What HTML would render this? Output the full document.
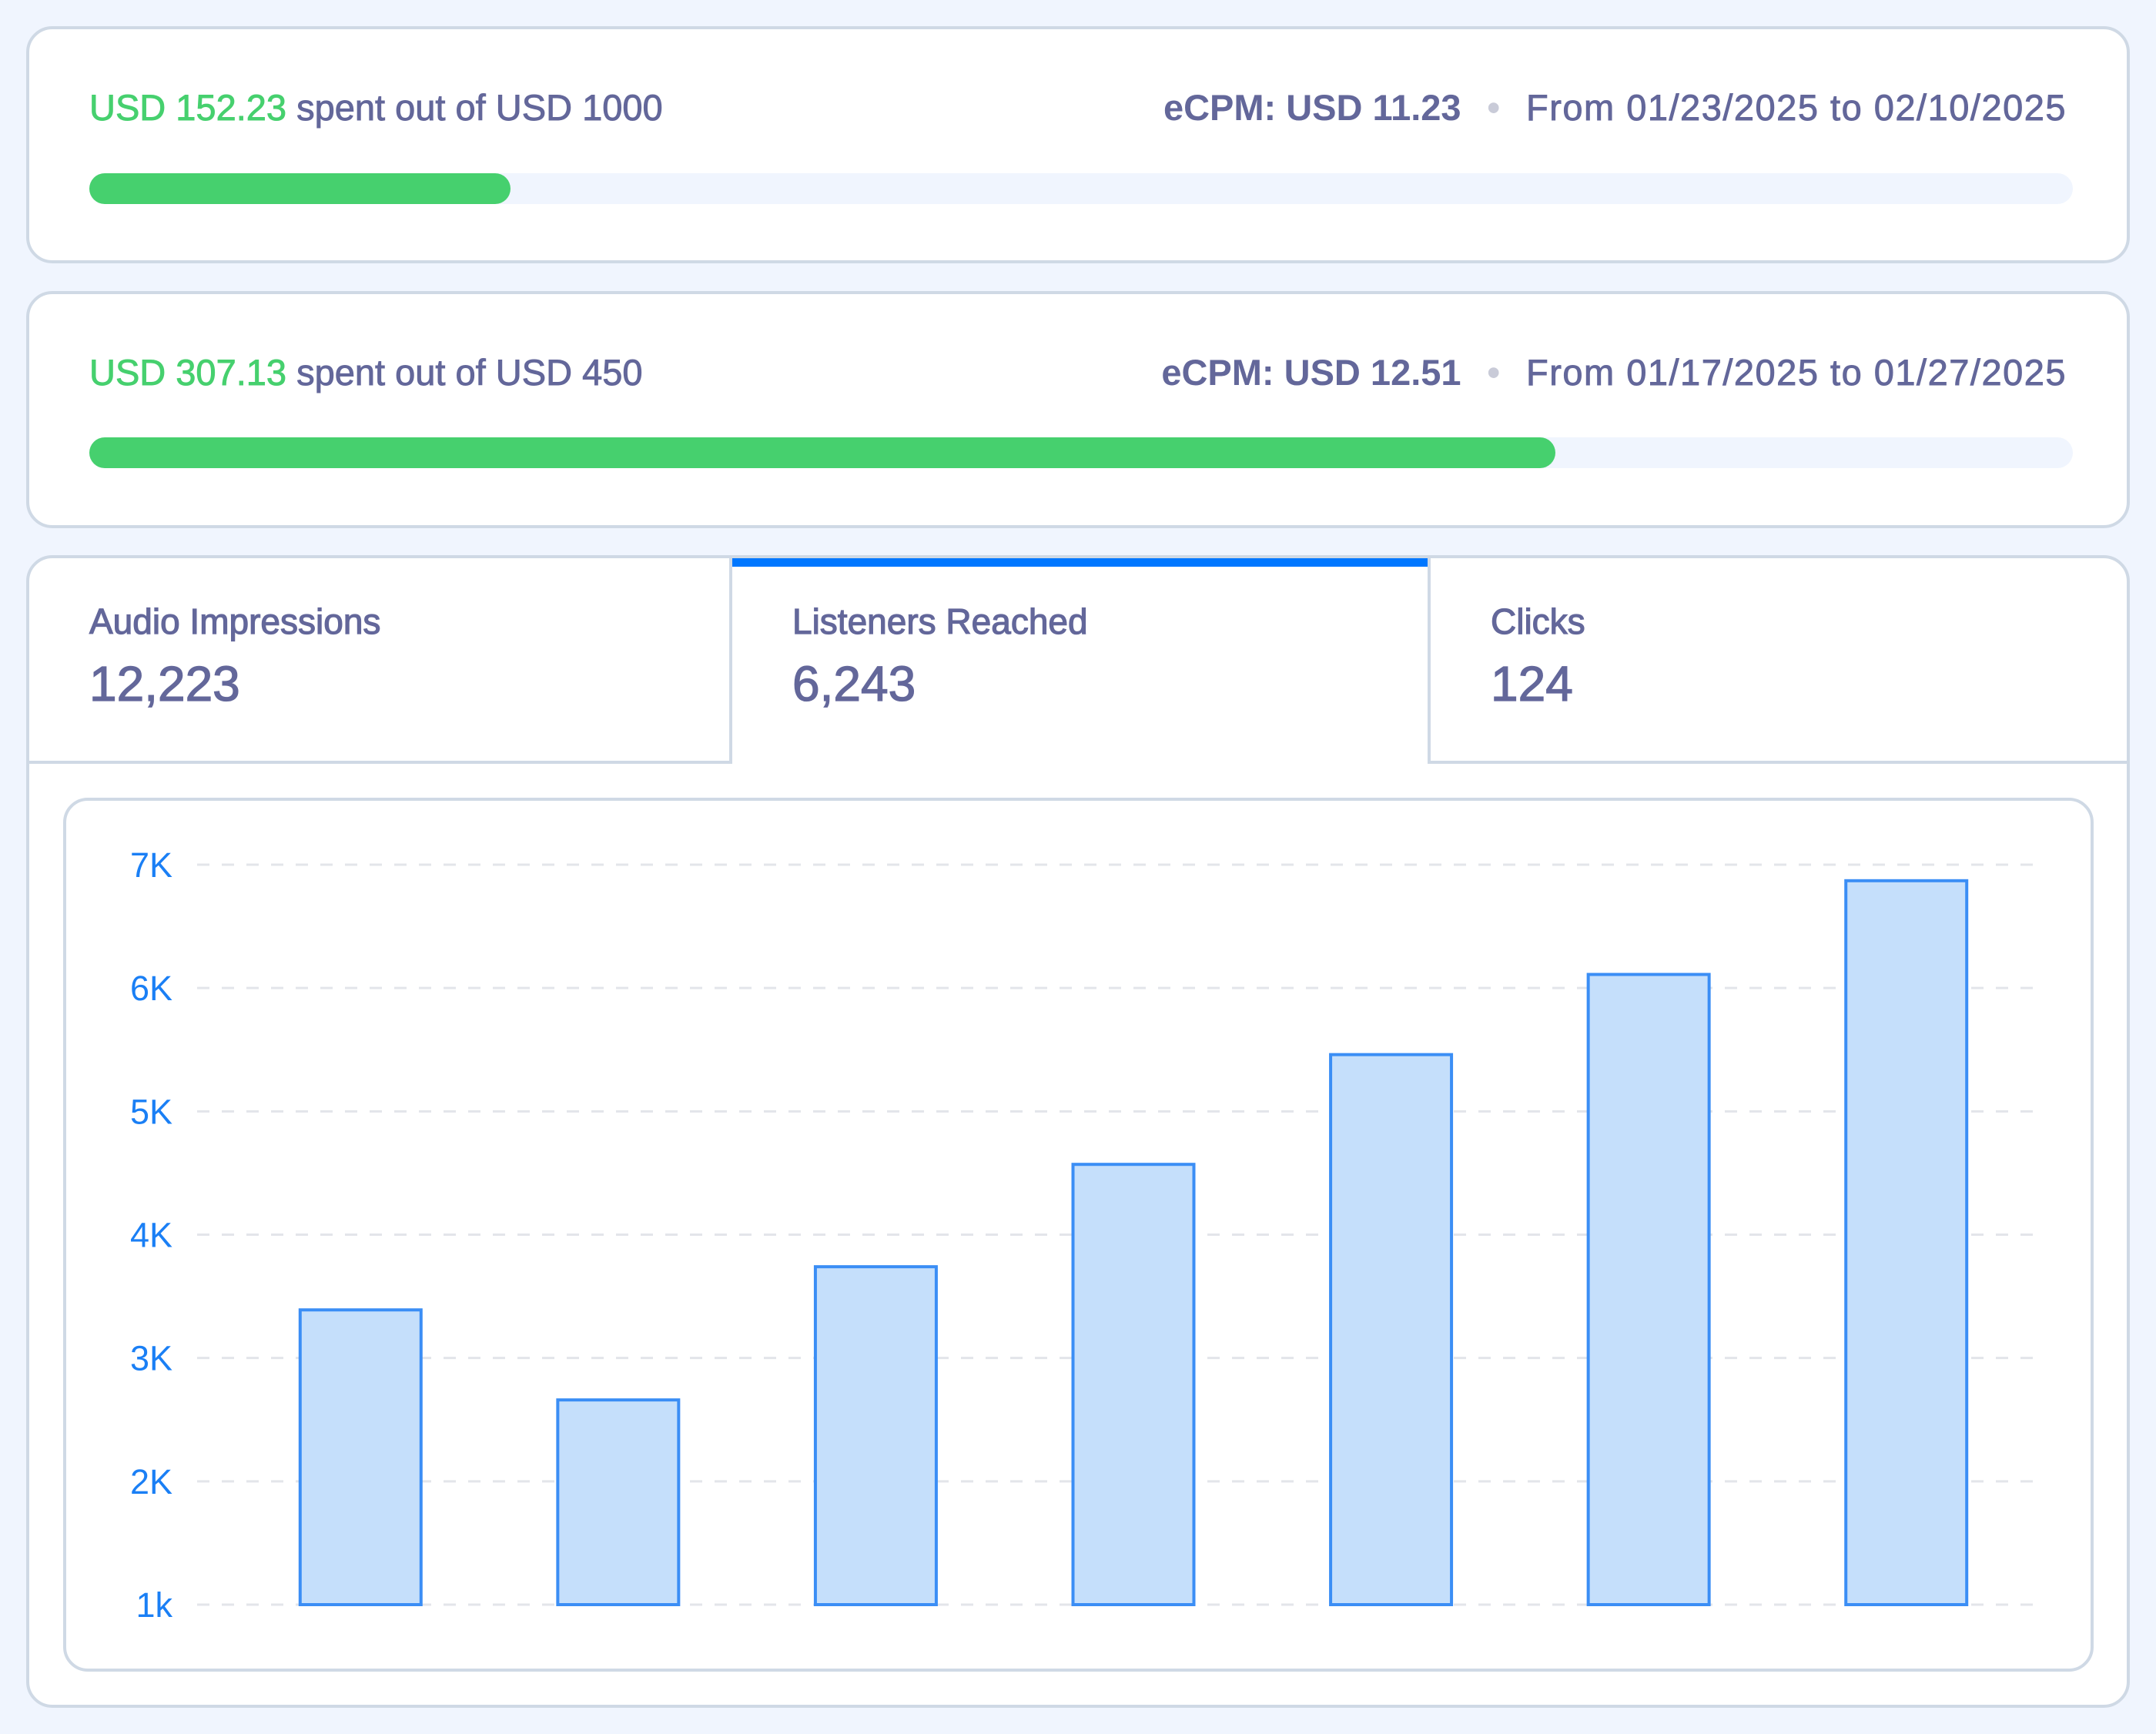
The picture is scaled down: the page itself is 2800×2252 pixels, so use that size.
<!DOCTYPE html>
<html><head><meta charset="utf-8">
<style>
html,body{margin:0;padding:0}
body{width:2800px;height:2252px;background:#f0f5fe;position:relative;overflow:hidden;font-family:"Liberation Sans",sans-serif;color:#63679a}
.card{position:absolute;background:#fff;border:4px solid #cfd9e5;border-radius:34px;box-sizing:border-box}
.t{position:absolute;white-space:nowrap;font-size:47px;line-height:50px;-webkit-text-stroke:0.9px currentColor}
.t b{-webkit-text-stroke:0}
.t .d{letter-spacing:1.5px}
.track{position:absolute;height:40px;border-radius:20px;background:#f0f5fe}
.fill{position:absolute;left:0;top:0;height:40px;border-radius:20px;background:#46d06e}
.tab{position:absolute;box-sizing:border-box}
.lbl{position:absolute;font-size:46px;line-height:52px;white-space:nowrap;-webkit-text-stroke:1.2px currentColor}
.num{position:absolute;font-size:64px;line-height:70px;white-space:nowrap;-webkit-text-stroke:1.3px currentColor}
</style></head><body>

<div class="card" style="left:34px;top:34px;width:2732px;height:308px">
  <div class="t" style="left:78px;top:77px"><span style="color:#46d06e">USD 152.23</span> spent out of USD 1000</div>
  <div class="t" style="right:78px;top:77px"><b>eCPM: USD 11.23</b><span style="color:#c9cbd8;margin:0 34px">•</span><span class="d">From 01/23/2025 to 02/10/2025</span></div>
  <div class="track" style="left:78px;top:187px;width:2576px"><div class="fill" style="width:547px"></div></div>
</div>

<div class="card" style="left:34px;top:378px;width:2732px;height:308px">
  <div class="t" style="left:78px;top:77px"><span style="color:#46d06e">USD 307.13</span> spent out of USD 450</div>
  <div class="t" style="right:78px;top:77px"><b>eCPM: USD 12.51</b><span style="color:#c9cbd8;margin:0 34px">•</span><span class="d">From 01/17/2025 to 01/27/2025</span></div>
  <div class="track" style="left:78px;top:186px;width:2576px"><div class="fill" style="width:1904px"></div></div>
</div>

<div class="card" style="left:34px;top:721px;width:2732px;height:1497px;overflow:hidden">
  <div class="tab" style="left:0;top:0;width:913px;height:267px;border-right:4px solid #cfd9e5;border-bottom:4px solid #cfd9e5">
    <div class="lbl" style="left:78px;top:56px">Audio Impressions</div>
    <div class="num" style="left:78px;top:128px">12,223</div>
  </div>
  <div class="tab" style="left:913px;top:0;width:907px;height:267px">
    <div style="position:absolute;left:0;top:0;width:100%;height:11px;background:#0077ff"></div>
    <div class="lbl" style="left:78px;top:56px">Listeners Reached</div>
    <div class="num" style="left:78px;top:128px">6,243</div>
  </div>
  <div class="tab" style="left:1816px;top:0;width:920px;height:267px;border-left:4px solid #cfd9e5;border-bottom:4px solid #cfd9e5">
    <div class="lbl" style="left:78px;top:56px">Clicks</div>
    <div class="num" style="left:78px;top:128px">124</div>
  </div>
</div>

<div class="card" style="left:82px;top:1036px;width:2637px;height:1135px;border-radius:32px"></div>

<svg id="chart" width="2800" height="2252" style="position:absolute;left:0;top:0" xmlns="http://www.w3.org/2000/svg"></svg>

<script>
const categories = ["1","2","3","4","5","6","7"];
const values = [3390, 2660, 3740, 4570, 5460, 6110, 6870];
const tickValues = [1000, 2000, 3000, 4000, 5000, 6000, 7000];
const tickLabels = ["1k","2K","3K","4K","5K","6K","7K"];

const svg = document.getElementById('chart');
const NS = 'http://www.w3.org/2000/svg';
const yMin = 1000, yMax = 7000, yBottom = 2084, yTop = 1123;
const xStart = 301, xEnd = 2643, gridX0 = 256, gridX1 = 2640;
function y(v){ return yBottom - (v - yMin) / (yMax - yMin) * (yBottom - yTop); }
const band = (xEnd - xStart) / categories.length;
function xc(i){ return xStart + band * (i + 0.5); }
const barW = 157;

tickValues.forEach((v, i) => {
  const l = document.createElementNS(NS, 'line');
  
  
  l.setAttribute('x1', gridX0); l.setAttribute('x2', gridX1);
  l.setAttribute('y1', y(v)); l.setAttribute('y2', y(v));
  l.setAttribute('stroke', '#e3e5ea'); l.setAttribute('stroke-width', '3');
  l.setAttribute('stroke-dasharray', '16 16');
  svg.appendChild(l);
  const t = document.createElementNS(NS, 'text');
  
  
  t.setAttribute('x', 224); t.setAttribute('y', y(v) + 16);
  t.setAttribute('text-anchor', 'end');
  t.setAttribute('font-family', 'Liberation Sans, sans-serif');
  t.setAttribute('font-size', '45');
  t.setAttribute('fill', '#1a7ff5');
  t.textContent = tickLabels[i];
  svg.appendChild(t);
});

values.forEach((v, i) => {
  const r = document.createElementNS(NS, 'rect');
  
  
  r.setAttribute('x', xc(i) - barW / 2);
  r.setAttribute('y', y(v));
  r.setAttribute('width', barW);
  r.setAttribute('height', y(yMin) - y(v));
  r.setAttribute('fill', '#c5dffb');
  r.setAttribute('stroke', '#3b8ef5');
  r.setAttribute('stroke-width', '4');
  svg.appendChild(r);
});
</script>
</body></html>
